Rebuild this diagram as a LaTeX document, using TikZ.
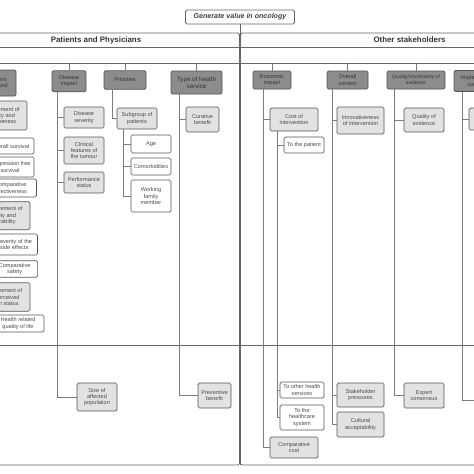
\documentclass[tikz,border=0pt]{standalone}
\usepackage{fontspec}
\setmainfont{Liberation Sans}
\definecolor{hdrgray}{RGB}{140,140,140}
\definecolor{boxgray}{RGB}{226,226,226}
\definecolor{edgegray}{RGB}{85,85,85}
\definecolor{linegray}{RGB}{125,125,125}
\tikzset{
  cat/.style={draw=edgegray, fill=hdrgray, rounded corners=1.5pt, line width=0.8pt,
    align=center, inner sep=0.5pt, font=\fontsize{5.5}{6.2}\selectfont, text=black!80},
  item/.style={draw=edgegray, fill=boxgray, rounded corners=1.5pt, line width=0.7pt,
    align=center, inner sep=0.5pt, font=\fontsize{5.6}{6.4}\selectfont, text=black!70},
  leaf/.style={item, fill=white},
  link/.style={draw=linegray, line width=0.7pt},
  panel/.style={draw=black!60, line width=0.8pt},
}
\begin{document}
\begin{tikzpicture}[x=1pt,y=-1pt]
    \useasboundingbox (0,0) rectangle (474,474);
    \clip (0,0) rectangle (474,474);

    % title and the two panels
    \node [draw=black!60, line width=0.8pt, rounded corners=1.5pt, fill=white, minimum width=109pt, minimum height=14pt, inner sep=0pt, font=\fontsize{7.1}{8}\selectfont\bfseries\itshape, text=black!75] (goal) at (240,17) {Generate value in oncology};
    \coordinate (bot) at (240,465);
    \coordinate (band) at (0,63);

    \draw [panel, rounded corners=1.5pt] (-47,33) rectangle (239.5,465);
    \draw [panel] (-47,47) -- (239.5,47);
    \draw [panel] (-47,63) -- (239.5,63);
    \draw [panel] (-47,345) -- (239.5,345);
    \draw [panel, rounded corners=1.5pt] (240.5,33) rectangle (579,465);
    \draw [panel] (240.5,47) -- (579,47);
    \draw [panel] (240.5,63) -- (579,63);
    \draw [panel] (240.5,345) -- (579,345);
    \draw [panel] (goal.south) -- (bot);

    \node [font=\fontsize{7.9}{9}\selectfont\bfseries, text=black!80] (pp) at (96,40) {Patients and Physicians};
    \node [font=\fontsize{7.9}{9}\selectfont\bfseries, text=black!80] (os) at (409.5,40) {Other stakeholders};

    % patients and physicians
    \node [cat, minimum width=56pt, minimum height=26pt] (hlth) at (-12,83) {Health problem\\and background};
    \node [cat, minimum width=34pt, minimum height=21pt] (dis) at (69,81.3) {Disease\\impact};
    \node [cat, minimum width=42pt, minimum height=18.5pt] (prio) at (125,80) {Priorities};
    \node [cat, minimum width=51pt, minimum height=23pt, font=\fontsize{6.2}{7}\selectfont] (serv) at (196.5,82.5) {Type of health\\service};

    \node [item, minimum width=54pt, minimum height=29pt] (eff) at (0,115.5) {Improvement of\\efficacy and\\effectiveness};
    \node [leaf, minimum width=48pt, minimum height=16pt] (os1) at (10,146) {Overall survival};
    \node [leaf, minimum width=48pt, minimum height=20pt] (pfs) at (10,167) {Progression free\\survival};
    \node [leaf, minimum width=51.5pt, minimum height=18pt] (ceff) at (10.7,188) {Comparative\\effectiveness};
    \node [item, minimum width=54pt, minimum height=28pt] (saf) at (3,215.7) {Improvement of\\safety and\\tolerability};
    \node [leaf, minimum width=46.6pt, minimum height=21pt] (sev1) at (14.2,244.5) {Severity of the\\side effects};
    \node [leaf, minimum width=46pt, minimum height=16.5pt] (csaf) at (14.6,269) {Comparative\\safety};
    \node [item, minimum width=54.6pt, minimum height=28.5pt] (perc) at (2.7,297) {Improvement of\\the perceived\\health status};
    \node [leaf, minimum width=52pt, minimum height=17pt] (qol) at (18,323.5) {Health related\\quality of life};

    \node [item, minimum width=40pt, minimum height=21pt] (sev) at (84,117.5) {Disease\\severity};
    \node [item, minimum width=40pt, minimum height=27pt] (clin) at (84,150.5) {Clinical\\features of\\the tumour};
    \node [item, minimum width=40pt, minimum height=21pt] (perf) at (84,182.5) {Performance\\status};
    \node [item, minimum width=40pt, minimum height=28pt] (size) at (97,397) {Size of\\affected\\population};

    \node [item, minimum width=40pt, minimum height=21pt] (sub) at (137,118.5) {Subgroup of\\patients};
    \node [leaf, minimum width=40pt, minimum height=18pt] (age) at (151,144) {Age};
    \node [leaf, minimum width=40pt, minimum height=17pt] (como) at (151,166.5) {Comorbidities};
    \node [leaf, minimum width=40pt, minimum height=32pt] (work) at (151,196) {Working\\family\\member};

    \node [item, minimum width=33pt, minimum height=25pt] (cur) at (202.5,119.5) {Curative\\benefit};
    \node [item, minimum width=33pt, minimum height=25pt] (prev) at (214.5,395.5) {Preventive\\benefit};

    % other stakeholders
    \node [cat, minimum width=38pt, minimum height=18pt] (eco) at (272,80) {Economic\\impact};
    \node [cat, minimum width=41pt, minimum height=18pt] (ctx) at (347.5,80) {Overall\\context};
    \node [cat, minimum width=58pt, minimum height=18pt, font=\fontsize{5}{6}\selectfont] (qual) at (416,80) {Quality/Uncertainty of\\evidence};
    \node [cat, minimum width=52pt, minimum height=21pt] (impl) at (480,81) {Implementation\\conditions};

    \node [item, minimum width=48pt, minimum height=23pt] (cost) at (294,119.5) {Cost of\\intervention};
    \node [leaf, minimum width=40pt, minimum height=16pt] (pat) at (304,145) {To the patient};
    \node [leaf, minimum width=44pt, minimum height=16pt] (oth) at (302,390) {To other health\\services};
    \node [leaf, minimum width=44pt, minimum height=25pt] (hcs) at (302,417.5) {To the\\healthcare\\system};
    \node [item, minimum width=48pt, minimum height=21pt] (ccost) at (294,447.5) {Comparative\\cost};

    \node [item, minimum width=47pt, minimum height=27pt] (inno) at (360.5,120.5) {Innovativeness\\of intervention};
    \node [item, minimum width=47pt, minimum height=24pt] (stak) at (360.5,395) {Stakeholder\\pressures};
    \node [item, minimum width=47pt, minimum height=25pt] (cult) at (360.5,424.5) {Cultural\\acceptability};

    \node [item, minimum width=40pt, minimum height=24pt] (qev) at (424,120) {Quality of\\evidence};
    \node [item, minimum width=40pt, minimum height=25pt] (expc) at (424,395.5) {Expert\\consensus};

    \node [item, minimum width=46pt, minimum height=22pt] (imp1) at (492,119) {};
    \node [item, minimum width=46pt, minimum height=24pt] (imp2) at (500,400) {};

    % headers hang from the panel band
    \foreach \h in {hlth,dis,prio,serv,eco,ctx,qual,impl}
        \draw [link] (\h.north) -- (\h.north |- band);

    % branches
    \foreach \c in {eff,saf,perc}
        \draw [link] ([xshift=6pt]hlth.south west) |- (\c.west);
    \foreach \c in {os1,pfs,ceff}
        \draw [link] ([xshift=6pt]eff.south west) |- (\c.west);
    \foreach \c in {sev1,csaf}
        \draw [link] ([xshift=6pt]saf.south west) |- (\c.west);
    \draw [link] ([xshift=6pt]perc.south west) |- (qol.west);

    \foreach \c in {sev,clin,perf,size}
        \draw [link] ([xshift=6pt]dis.south west) |- (\c.west);
    \draw [link] ([xshift=9pt]prio.south west) |- (sub.west);
    \foreach \c in {age,como,work}
        \draw [link] ([xshift=7pt]sub.south west) |- (\c.west);
    \foreach \c in {cur,prev}
        \draw [link] ([xshift=9pt]serv.south west) |- (\c.west);

    \foreach \c in {cost,ccost}
        \draw [link] ([xshift=11pt]eco.south west) |- (\c.west);
    \foreach \c in {pat,oth,hcs}
        \draw [link] ([xshift=8pt]cost.south west) |- (\c.west);
    \foreach \c in {inno,stak,cult}
        \draw [link] ([xshift=6pt]ctx.south west) |- (\c.west);
    \foreach \c in {qev,expc}
        \draw [link] ([xshift=8pt]qual.south west) |- (\c.west);
    \foreach \c in {imp1,imp2}
        \draw [link] ([xshift=9pt]impl.south west) |- (\c.west);

\end{tikzpicture}
\end{document}
